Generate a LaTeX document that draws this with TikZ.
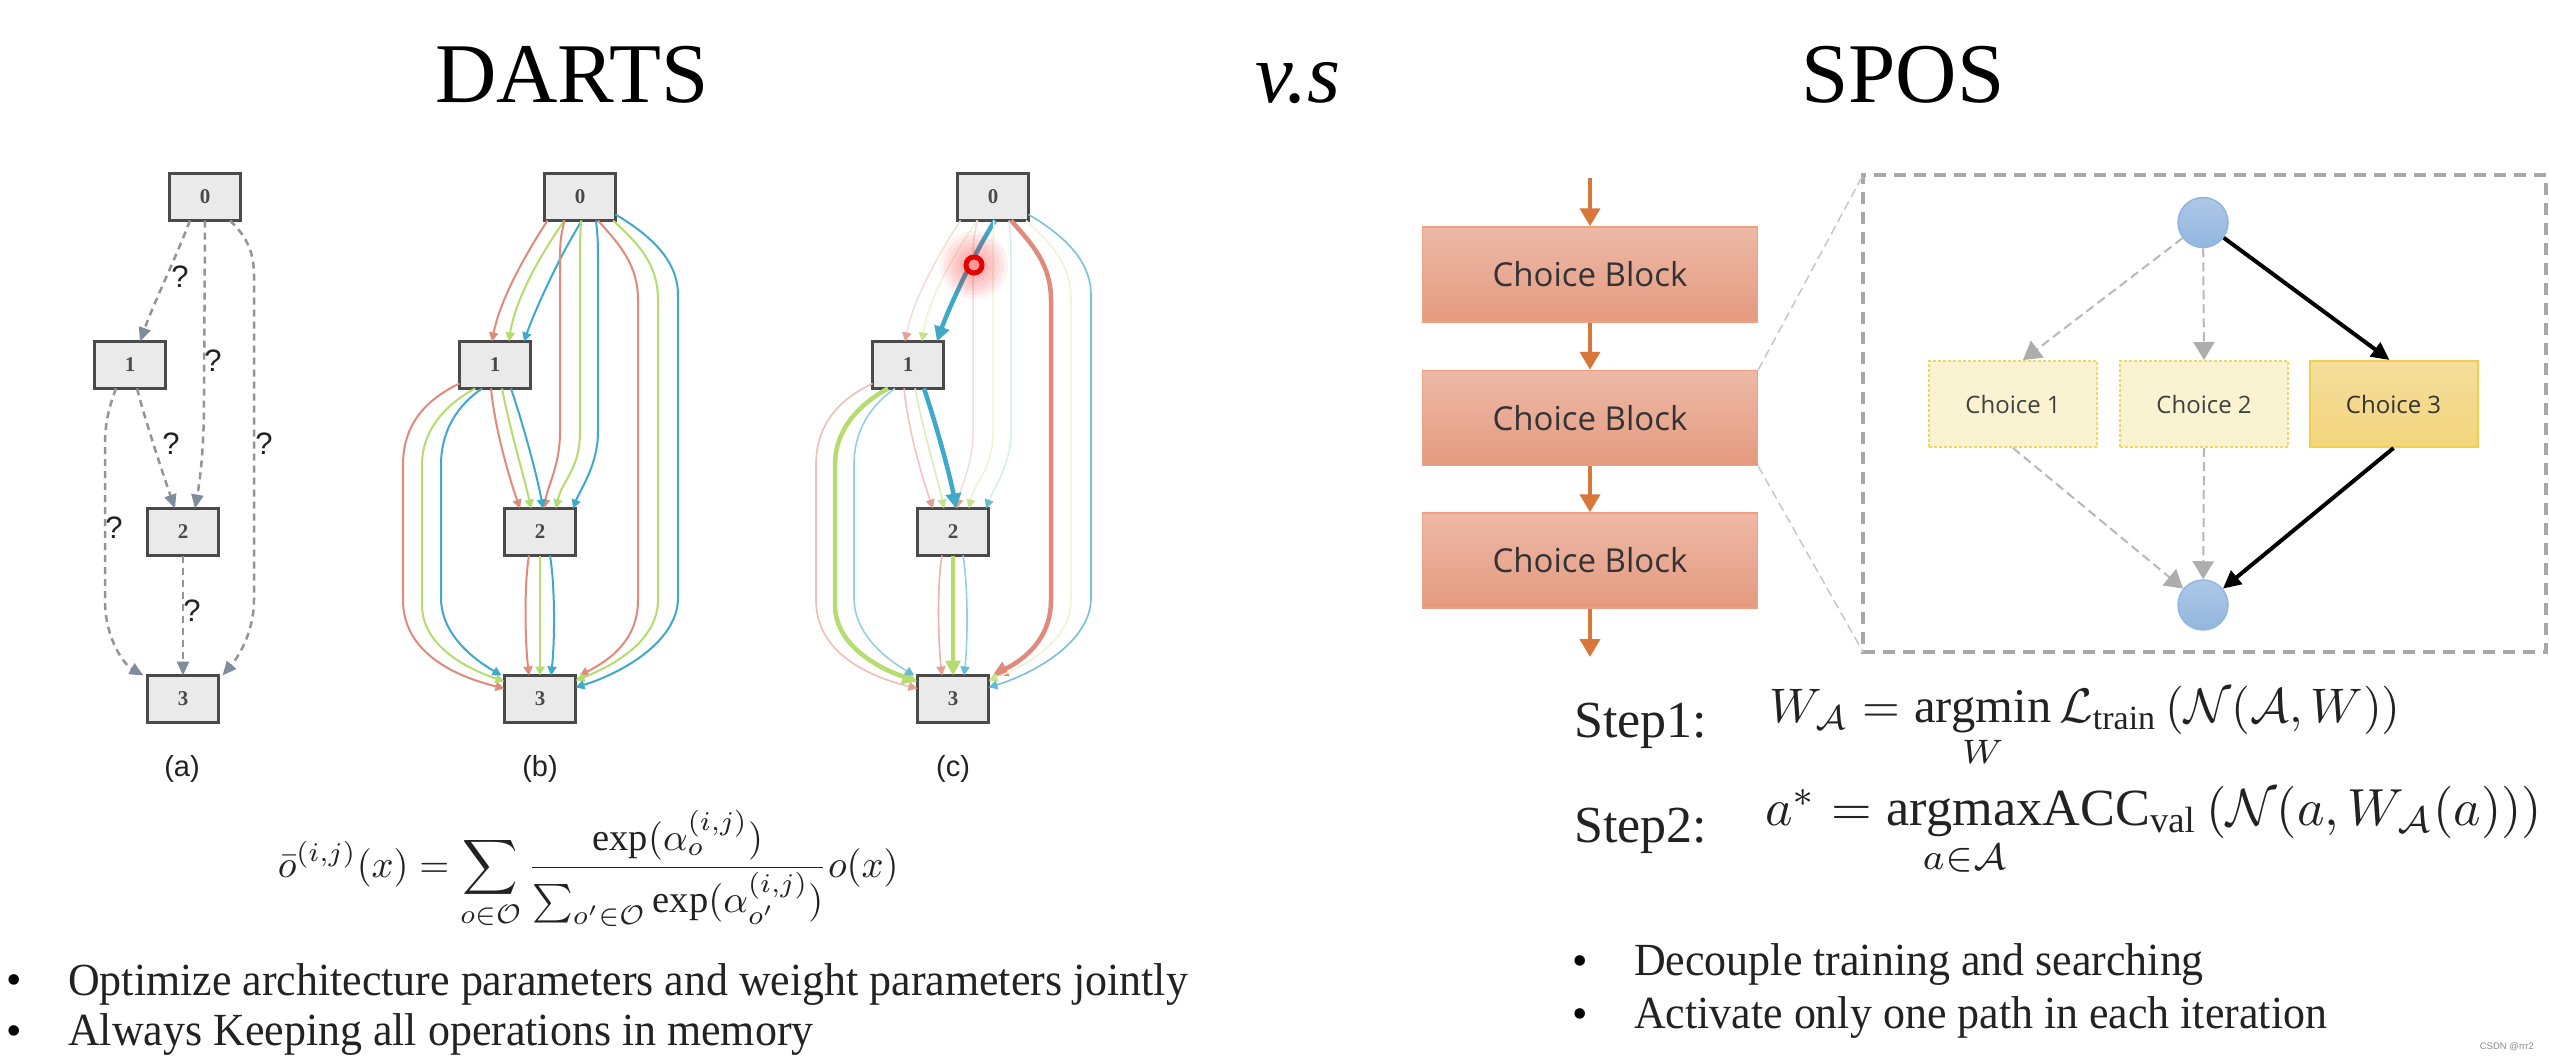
\documentclass[tikz,border=0pt]{standalone}
\usepackage{amsmath}
\usepackage{fontspec}
\setmainfont{Liberation Serif}
\newfontfamily\lsans{Liberation Sans}
\newfontfamily\osans{Open Sans}
\usetikzlibrary{arrows.meta}
\definecolor{cR}{HTML}{E08A7C}
\definecolor{cG}{HTML}{B5DC6E}
\definecolor{cB}{HTML}{3FA9C9}
\definecolor{cTipGray}{HTML}{7F8C9B}
\definecolor{cBoxFill}{HTML}{EAEAEA}
\definecolor{cBoxLine}{HTML}{4A4A4A}
\definecolor{cOrange}{HTML}{D9773A}
\definecolor{cDash}{HTML}{A8A8A8}
\definecolor{cTxt}{HTML}{222222}
\definecolor{cBlockTop}{HTML}{EDB9A6}
\definecolor{cBlockBot}{HTML}{E59A80}
\definecolor{cBlockLine}{HTML}{F0A080}
\definecolor{cJointTop}{HTML}{ADC8E8}
\definecolor{cJointBot}{HTML}{92B6DE}
\definecolor{cOnTop}{HTML}{F5DD9C}
\definecolor{cOnBot}{HTML}{F3D67D}
\definecolor{cOnLine}{HTML}{F2CF50}
\definecolor{cOffFill}{HTML}{FAF3D2}
\definecolor{cOffLine}{HTML}{F0D860}
\tikzset{
  opbox/.style={draw=cBoxLine,line width=3pt,fill=cBoxFill,minimum width=71pt,minimum height=47pt,inner sep=0pt,outer sep=0pt,font=\fontsize{21}{24}\selectfont\bfseries,text=cBoxLine},
  qedge/.style={draw=black!42,line width=2.5pt,dash pattern=on 7pt off 5pt,-{Triangle[length=14pt,width=12pt,color=cTipGray]}},
  qmark/.style={font=\lsans\fontsize{31}{33}\selectfont,text=cTxt},
  caplabel/.style={font=\lsans\fontsize{29}{31}\selectfont,text=cTxt},
  title/.style={anchor=base,text=black,inner sep=0pt},
  edgeR/.style={draw=cR,line width=2pt,-{Triangle[length=9pt,width=9pt,color=cR]}},
  edgeG/.style={draw=cG,line width=2pt,-{Triangle[length=9pt,width=9pt,color=cG]}},
  edgeB/.style={draw=cB,line width=2pt,-{Triangle[length=9pt,width=9pt,color=cB]}},
  cblock/.style={draw=cBlockLine,line width=1.5pt,top color=cBlockTop,bottom color=cBlockBot,minimum width=335pt,minimum height=95pt,inner sep=0pt,font=\osans\fontsize{33}{35}\selectfont,text=black!80},
  oarrow/.style={draw=cOrange,line width=4pt,-{Triangle[length=18pt,width=20pt,color=cOrange]}},
  choiceoff/.style={draw=cOffLine,line width=2pt,dash pattern=on 3pt off 2pt,fill=cOffFill,minimum width=168pt,minimum height=86pt,inner sep=0pt,font=\osans\fontsize{24}{26}\selectfont,text=black!75},
  choiceon/.style={draw=cOnLine,line width=2pt,top color=cOnTop,bottom color=cOnBot,minimum width=168pt,minimum height=86pt,inner sep=0pt,font=\osans\fontsize{24}{26}\selectfont,text=black!80},
  joint/.style={circle,draw=cJointBot,line width=1.5pt,top color=cJointTop,bottom color=cJointBot,minimum size=50pt,inner sep=0pt},
  gedge/.style={draw=black!28,line width=2pt,dash pattern=on 9pt off 5pt,-{Triangle[length=18pt,width=21pt,color=black!32]}},
  kedge/.style={draw=black,line width=4pt,-{Triangle[length=18pt,width=17pt,color=black]}},
  zoomline/.style={draw=black!22,line width=1.5pt,dash pattern=on 9pt off 5pt},
  eqn/.style={anchor=base west,inner sep=0pt,text=cTxt},
  bodytext/.style={anchor=base west,inner sep=0pt,xscale=0.955,font=\fontsize{46}{48}\selectfont,text=cTxt},
  stepl/.style={anchor=base west,inner sep=0pt,font=\fontsize{52}{54}\selectfont,text=cTxt},
  bul/.style={inner sep=0pt,font=\fontsize{44}{46}\selectfont,text=black},
}
\newcommand{\dartspanel}[1]{%
  \node[opbox] (#10) at (580,197) {0};
  \node[opbox] (#11) at (495,365) {1};
  \node[opbox] (#12) at (540,532) {2};
  \node[opbox] (#13) at (540,699) {3};
  % 0 to 1
  \draw[edgeR,s01R/.try] ([xshift=-32.5pt]#10.south) .. controls (525,255) and (500,300) .. ([xshift=-3pt]#11.north);
  \draw[edgeG,s01G/.try] ([xshift=-15.5pt]#10.south) .. controls (540,255) and (515,300) .. ([xshift=14pt]#11.north);
  \draw[edgeB,s01B/.try] ([xshift=2pt]#10.south) .. controls (560,255) and (535,310) .. ([xshift=29pt]#11.north);
  % 0 to 2
  \draw[edgeR,s02R/.try] ([xshift=-15.5pt]#10.south) .. controls (560,240) .. (560,274) -- (560,432) .. controls (560,465) and (548,485) .. ([xshift=4pt]#12.north);
  \draw[edgeG,s02G/.try] ([xshift=1pt]#10.south) .. controls (580,240) .. (580,274) -- (580,432) .. controls (580,470) and (562,480) .. ([xshift=16pt]#12.north);
  \draw[edgeB,s02B/.try] ([xshift=16pt]#10.south) .. controls (598,240) .. (598,274) -- (598,432) .. controls (598,465) and (580,490) .. ([xshift=33pt]#12.north);
  % 0 to 3
  \draw[edgeR,s03R/.try] ([xshift=18pt]#10.south) .. controls (620,245) and (638,265) .. (638,300) -- (638,600) .. controls (638,640) and (610,660) .. ([xshift=4pt]#13.north east);
  \draw[edgeG,s03G/.try] ([xshift=33pt]#10.south) .. controls (640,245) and (658,265) .. (658,300) -- (658,600) .. controls (658,640) and (615,665) .. ([yshift=-5pt]#13.north east);
  \draw[edgeB,s03B/.try] ([yshift=6pt]#10.south east) .. controls (650,235) and (678,260) .. (678,295) -- (678,598) .. controls (678,640) and (625,672) .. ([yshift=-12pt]#13.north east);
  % 1 to 2
  \draw[edgeR,s12R/.try] ([xshift=-4pt]#11.south) .. controls (495,430) and (510,480) .. ([xshift=-20pt]#12.north);
  \draw[edgeG,s12G/.try] ([xshift=7pt]#11.south) .. controls (510,430) and (525,480) .. ([xshift=-9pt]#12.north);
  \draw[edgeB,s12B/.try] ([xshift=16pt]#11.south) .. controls (525,430) and (538,480) .. ([xshift=3pt]#12.north);
  % 1 to 3
  \draw[edgeR,s13R/.try] ([yshift=5pt]#11.south west) .. controls (425,400) and (403,425) .. (403,465) -- (403,600) .. controls (403,650) and (450,675) .. ([yshift=-13pt]#13.north west);
  \draw[edgeG,s13G/.try] ([xshift=-20pt]#11.south) .. controls (445,405) and (422,430) .. (422,465) -- (422,605) .. controls (422,645) and (465,668) .. ([yshift=-6pt]#13.north west);
  \draw[edgeB,s13B/.try] ([xshift=-13pt]#11.south) .. controls (458,405) and (441,430) .. (441,465) -- (441,598) .. controls (441,635) and (475,660) .. ([xshift=-3pt]#13.north west);
  % 2 to 3
  \draw[edgeR,s23R/.try] ([xshift=-11pt]#12.south) .. controls (524,585) and (525,640) .. ([xshift=-11pt]#13.north);
  \draw[edgeG,s23G/.try] (#12.south) -- (#13.north);
  \draw[edgeB,s23B/.try] ([xshift=10pt]#12.south) .. controls (555,585) and (555,640) .. ([xshift=11pt]#13.north);
}
\begin{document}
\begin{tikzpicture}[x=1pt,y=-1pt]
\useasboundingbox (0,0) rectangle (2549,1061);
\fill[white] (0,0) rectangle (2549,1061);
% titles
\node[title,font=\fontsize{85}{88}\selectfont] (tDarts) at (572,102) {DARTS};
\node[title,font=\fontsize{85}{88}\selectfont\itshape] (tVs) at (1298,102) {v.s};
\node[title,font=\fontsize{85}{88}\selectfont] (tSpos) at (1903,102) {SPOS};
% panel a
\node[opbox] (a0) at (205,197) {0};
\node[opbox] (a1) at (130,365) {1};
\node[opbox] (a2) at (183,532) {2};
\node[opbox] (a3) at (183,699) {3};
\draw[qedge] ([xshift=-15pt]a0.south) .. controls (175,260) and (155,300) .. ([xshift=10pt]a1.north);
\draw[qedge] (a0.south) -- (204,399) .. controls (204,450) and (200,480) .. ([xshift=12pt]a2.north);
\draw[qedge] ([xshift=25pt]a0.south) .. controls (245,235) and (254,250) .. (254,275) -- (254,600) .. controls (254,630) and (240,655) .. ([xshift=4pt]a3.north east);
\draw[qedge] ([xshift=7pt]a1.south) .. controls (145,420) and (165,480) .. ([xshift=-8pt]a2.north);
\draw[qedge] ([xshift=-14pt]a1.south) .. controls (108,410) and (105,425) .. (105,445) -- (105,600) .. controls (105,640) and (125,665) .. ([xshift=-4pt]a3.north west);
\draw[qedge] (a2.south) -- (a3.north);
\node[qmark] (q1) at (180,277) {?};
\node[qmark] (q2) at (213,361) {?};
\node[qmark] (q3) at (171,444) {?};
\node[qmark] (q4) at (264,444) {?};
\node[qmark] (q5) at (114,528) {?};
\node[qmark] (q6) at (192,611) {?};
\node[caplabel] (capA) at (182,769) {(a)};
% panel b
\dartspanel{b}
\node[caplabel] (capB) at (540,769) {(b)};
% panel c
\begin{scope}[xshift=413pt,
  edgeR/.style={draw=cR!30,line width=1.5pt,-{Triangle[length=9pt,width=9pt,color=cR!80]}},
  edgeG/.style={draw=cG!28,line width=1.5pt,-{Triangle[length=9pt,width=9pt,color=cG!80]}},
  edgeB/.style={draw=cB!22,line width=1.5pt,-{Triangle[length=9pt,width=9pt,color=cB!80]}},
  s01B/.style={draw=cB,line width=4.5pt,-{Triangle[length=15pt,width=15pt,color=cB]}},
  s12B/.style={draw=cB,line width=4.5pt,-{Triangle[length=15pt,width=15pt,color=cB]}},
  s03R/.style={draw=cR,line width=4.5pt,-{Triangle[length=15pt,width=15pt,color=cR]}},
  s13G/.style={draw=cG,line width=4.5pt,-{Triangle[length=15pt,width=15pt,color=cG]}},
  s23G/.style={draw=cG,line width=4.5pt,-{Triangle[length=15pt,width=15pt,color=cG]}},
  s03B/.style={draw=cB!70,line width=1.6pt},
  s13B/.style={draw=cB!55,line width=1.6pt},
  s23B/.style={draw=cB!55,line width=1.6pt},
  s13R/.style={draw=cR!55,line width=1.6pt},
  s23R/.style={draw=cR!65,line width=1.6pt},
  s12R/.style={draw=cR!50,line width=1.6pt},
  s12G/.style={draw=cG!50,line width=1.6pt},
]
\dartspanel{c}
\end{scope}
\foreach \r in {34,30,26,22,18,14}{\fill[red,opacity=0.05] (974,265) circle (\r);}
\draw[red!90!black,line width=5pt,fill=red!40] (974,265) circle (8);
\node[caplabel] (capC) at (953,769) {(c)};
% darts formula
\node[eqn,scale=3.85] (fDarts) at (277,877) {$\displaystyle \bar{o}^{(i,j)}(x)=\sum_{o\in\mathcal{O}}\frac{\exp(\alpha_o^{(i,j)})}{\sum_{o'\in\mathcal{O}}\exp(\alpha_{o'}^{(i,j)})}o(x)$};
% left bullets
\node[bul] (bL1) at (14,985) {•};
\node[bul] (bL2) at (14,1036) {•};
\node[bodytext] (tL1) at (68,995) {Optimize architecture parameters and weight parameters jointly};
\node[bodytext] (tL2) at (68,1045) {Always Keeping all operations in memory};
% choice blocks
\coordinate (inTop) at (1590,178);
\coordinate (outBot) at (1590,657);
\node[cblock] (blk1) at (1590,274.5) {Choice Block};
\node[cblock] (blk2) at (1590,418) {Choice Block};
\node[cblock] (blk3) at (1590,560.5) {Choice Block};
\draw[oarrow] (inTop) -- (blk1.north);
\draw[oarrow] (blk1.south) -- (blk2.north);
\draw[oarrow] (blk2.south) -- (blk3.north);
\draw[oarrow] (blk3.south) -- (outBot);
% zoom box
\coordinate (zTL) at (1863,175);
\coordinate (zBL) at (1863,652);
\coordinate (zTR) at (2546,175);
\coordinate (zBR) at (2546,652);
\draw[draw=cDash,line width=4.5pt,dash pattern=on 12pt off 8pt] (zTR) -- (zTL) -- (zBL) -- (zBR) -- cycle;
\draw[zoomline] (blk2.north east) -- (zTL);
\draw[zoomline] (blk2.south east) -- (zBL);
% inner graph
\node[joint] (jTop) at (2203,222.5) {};
\node[joint] (jBot) at (2203,605) {};
\node[choiceoff] (ch1) at (2013,404) {Choice 1};
\node[choiceoff] (ch2) at (2204,404) {Choice 2};
\node[choiceon] (ch3) at (2393.5,404) {Choice 3};
\draw[gedge] (jTop) -- ([xshift=10pt]ch1.north);
\draw[gedge] (jTop) -- (ch2.north);
\draw[gedge] (ch1.south) -- (jBot);
\draw[gedge] (ch2.south) -- (jBot);
\draw[kedge] (jTop) -- ([xshift=-4pt]ch3.north);
\draw[kedge] (ch3.south) -- (jBot);
% steps
\node[stepl] (s1) at (1574,737) {Step1:};
\node[stepl] (s2) at (1574,842) {Step2:};
\node[eqn,scale=4.85] (e1) at (1769,722) {$W_{\mathcal{A}}=\mathop{\mathrm{argmin}}\limits_{W}\mathcal{L}_{\mathrm{train}}\left(\mathcal{N}(\mathcal{A},W)\right)$};
\node[eqn,scale=5.22] (e2) at (1764,825) {$a^{*}=\mathop{\mathrm{argmax}}\limits_{a\in\mathcal{A}}\!\mathrm{ACC}_{\mathrm{val}}\left(\mathcal{N}(a,W_{\mathcal{A}}(a))\right)$};
% right bullets
\node[bul] (bR1) at (1580,966) {•};
\node[bul] (bR2) at (1580,1019) {•};
\node[bodytext] (tR1) at (1634,975) {Decouple training and searching};
\node[bodytext] (tR2) at (1634,1028) {Activate only one path in each iteration};
\node[anchor=east,inner sep=0pt,font=\lsans\fontsize{9.5}{11}\selectfont,text=black!45] (wm) at (2534,1047) {CSDN @rrr2};
\end{tikzpicture}
\end{document}
